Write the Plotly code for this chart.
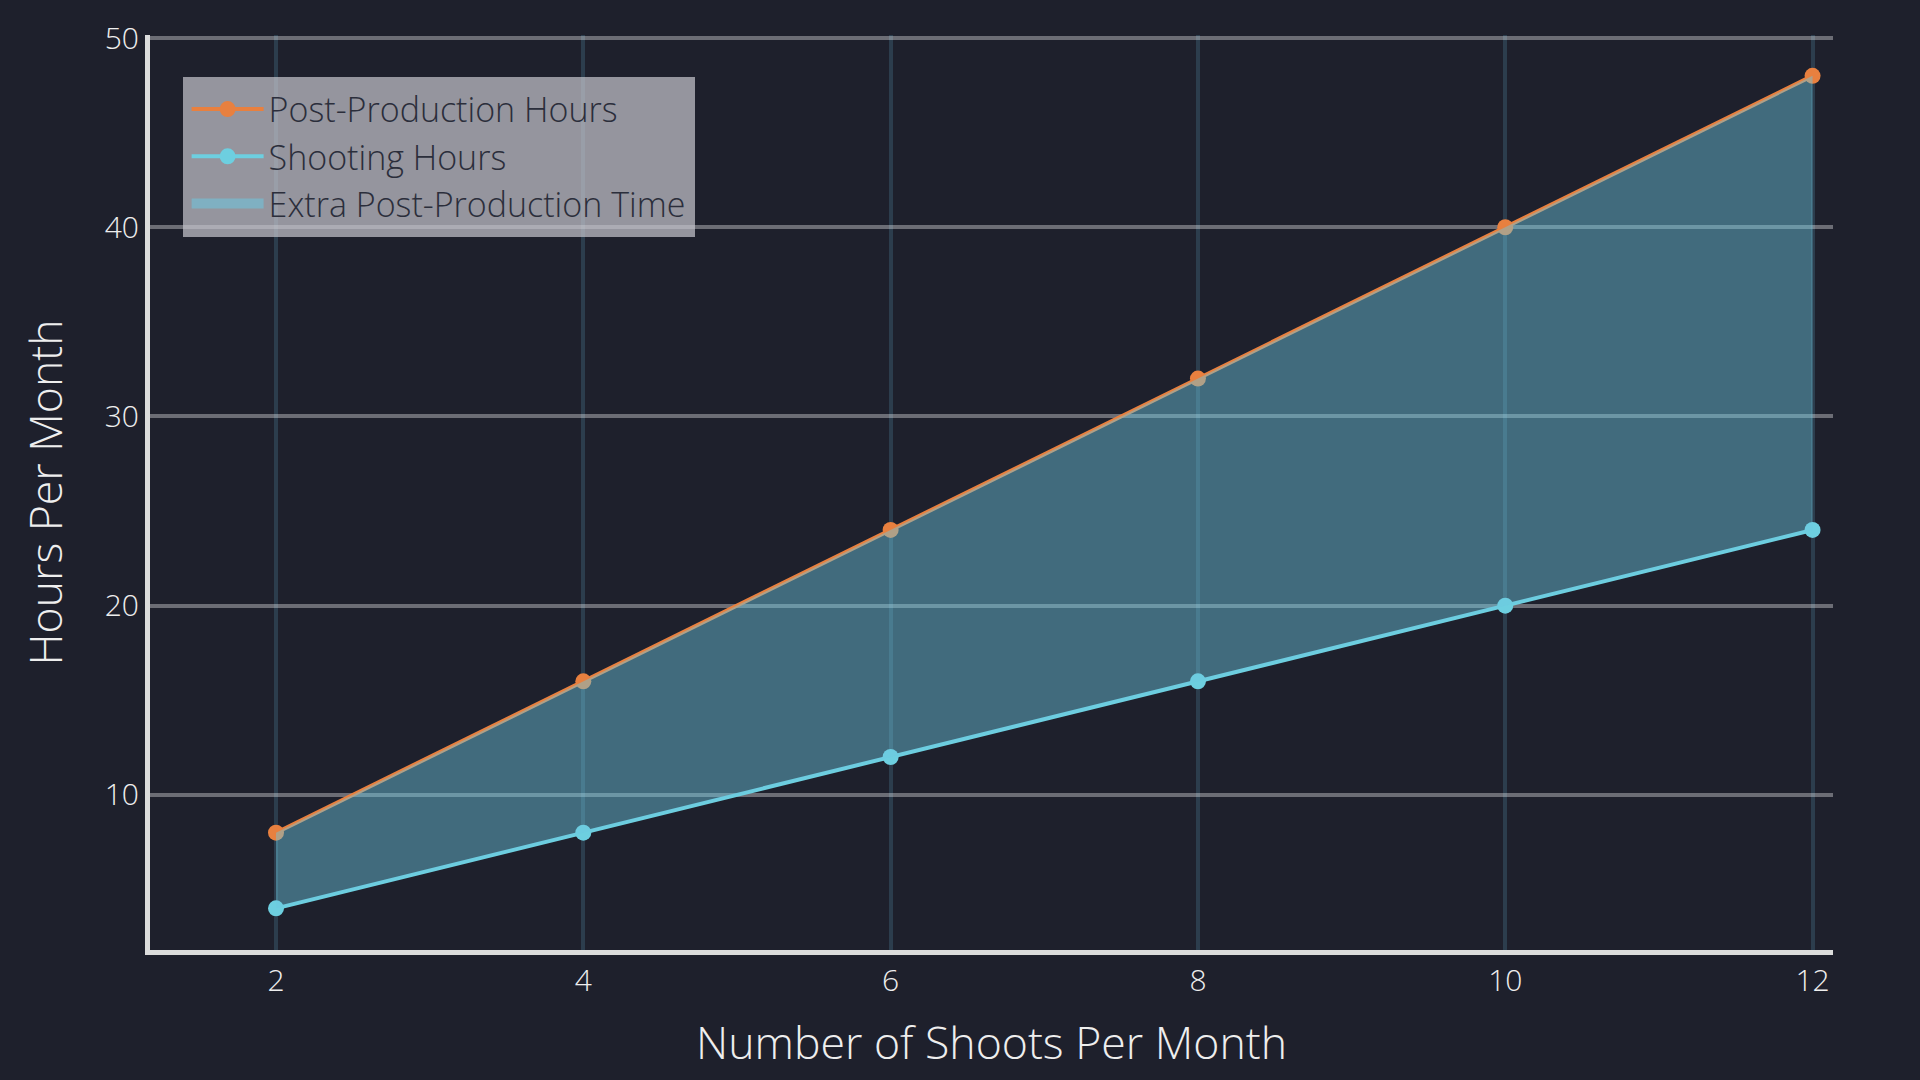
import plotly.graph_objects as go

shoots = [2, 4, 6, 8, 10, 12]
post_hours = [8, 16, 24, 32, 40, 48]
shoot_hours = [4, 8, 12, 16, 20, 24]
y_ticks = [10, 20, 30, 40, 50]
x_ticks = [2, 4, 6, 8, 10, 12]

BG = "#1E202C"
ORANGE = "#E8803F"
CYAN = "#6DCFE0"
FILL = "rgba(108,200,224,0.45)"
FONT = "Open Sans"
W = 300

fig = go.Figure()

fig.add_trace(go.Scatter(
    x=shoots, y=post_hours, mode="lines+markers", name="Post-Production Hours",
    line=dict(color=ORANGE, width=4), marker=dict(color=ORANGE, size=16),
))
fig.add_trace(go.Scatter(
    x=shoots, y=shoot_hours, mode="lines+markers", name="Shooting Hours",
    line=dict(color=CYAN, width=4), marker=dict(color=CYAN, size=16),
))
fig.add_trace(go.Scatter(
    x=shoots + shoots[::-1], y=post_hours + shoot_hours[::-1],
    fill="toself", fillcolor=FILL, mode="lines",
    line=dict(width=0), name="Extra Post-Production Time", hoverinfo="skip",
    showlegend=False, legendgroup="extra",
))
# legend swatch for the shaded band
fig.add_trace(go.Scatter(
    x=[None], y=[None], mode="lines", name="Extra Post-Production Time",
    line=dict(color="rgba(120,185,205,0.75)", width=20), legendgroup="extra",
))

fig.update_layout(
    width=1920, height=1080,
    paper_bgcolor=BG, plot_bgcolor=BG,
    margin=dict(l=150, r=87, t=35, b=130),
    font=dict(family=FONT, size=30, color="#EEEEEE", weight=W),
    showlegend=True,
    legend=dict(
        x=0.017, y=0.959, xanchor="left", yanchor="top",
        bgcolor="rgba(200,200,206,0.7)", bordercolor="rgba(0,0,0,0)", borderwidth=8,
        font=dict(family=FONT, size=34, color="#2B2E3B", weight=W),
        itemwidth=72, traceorder="normal",
    ),
    xaxis=dict(
        range=[1.18, 12.133], tickvals=x_ticks, ticktext=[str(v) for v in x_ticks],
        showgrid=True, gridcolor="rgba(100,180,210,0.2)", gridwidth=4,
        zeroline=False, showline=True, linecolor="#DCDCDC", linewidth=5,
        ticks="", tickfont=dict(size=30, color="#EEEEEE", weight=W),
        title=dict(text="Number of Shoots Per Month", font=dict(size=44.6, color="#EEEEEE", weight=W), standoff=30),
    ),
    yaxis=dict(
        range=[1.8, 50.16], tickvals=y_ticks, ticktext=[str(v) for v in y_ticks],
        showgrid=True, gridcolor="rgba(255,255,255,0.35)", gridwidth=4,
        zeroline=False, showline=True, linecolor="#DCDCDC", linewidth=5,
        ticks="", tickfont=dict(size=30, color="#EEEEEE", weight=W),
        title=dict(text="Hours Per Month", font=dict(size=44.6, color="#EEEEEE", weight=W), standoff=30),
    ),
)

fig.write_html("out.html")
